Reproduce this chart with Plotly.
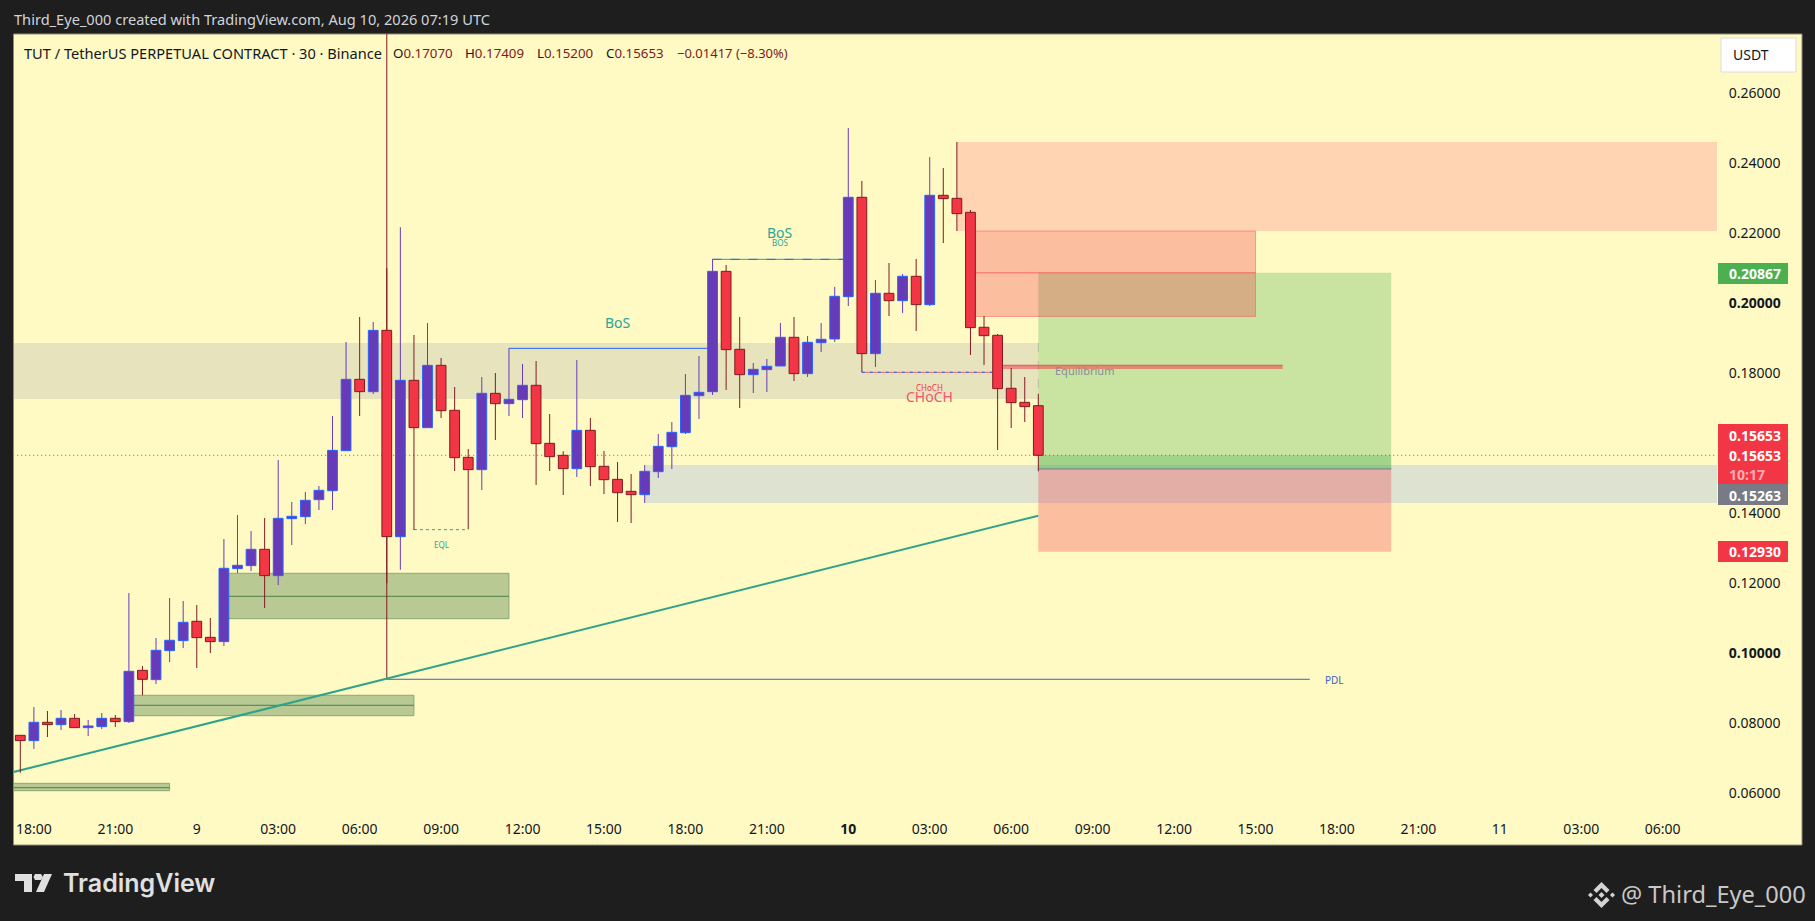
#!/usr/bin/env python3
"""TUT / TetherUS 30m chart with smart-money drawings, TradingView look."""

import pandas as pd
import plotly.graph_objects as go

# candles, 30 minute bars from Aug 8 17:30
opens = [.07652, .07500, .08024, .07957, .08138, .07871, .07900, .08138, .08043, .09509,
         .09243, .10071, .10357, .10910, .10452, .10329, .12414, .12500, .12967, .12214,
         .13843, .13900, .14386, .14642, .15785, .17823, .17471, .19223, .13328, .17795,
         .16442, .18223, .16938, .15595, .15242, .17423, .17128, .17242, .17652, .15995,
         .15652, .15271, .16366, .15338, .14966, .14623, .14528, .15185, .15899, .16299,
         .17356, .17471, .20909, .18681, .17957, .18100, .18205, .19024, .17986, .18871,
         .18976, .20186, .23024, .18557, .20281, .20071, .20767, .19957, .23081, .22995,
         .22595, .19310, .19081, .17567, .17167, .17070]
highs = [.07652, .08462, .08348, .08376, .08262, .08090, .08290, .08233, .11719, .09633,
         .10433, .11576, .11490, .11376, .11005, .13262, .13948, .13491, .13862, .15519,
         .14319, .14605, .14776, .16776, .18890, .19604, .19461, .21000, .22166, .19090,
         .19433, .18433, .17604, .15833, .17890, .18004, .18709, .18261, .18347, .16833,
         .15766, .18376, .16718, .15775, .15461, .15118, .15376, .16261, .16604, .17976,
         .18490, .21252, .21090, .19605, .18290, .18405, .19433, .19605, .19062, .19433,
         .20462, .25005, .23490, .20662, .21147, .20833, .21262, .24176, .23862, .24605,
         .22662, .19633, .19119, .18148, .17890, .17409]
lows = [.06586, .07262, .07605, .07805, .07871, .07633, .07833, .07890, .08005, .08795,
        .09119, .09748, .10148, .09576, .10005, .10205, .12291, .12348, .11290, .11948,
        .13091, .13691, .14091, .14090, .15785, .16776, .17404, .12000, .12385, .13518,
        .16442, .16718, .15204, .13537, .14661, .16090, .16776, .16718, .14804, .15204,
        .14518, .15033, .14775, .14547, .13747, .13718, .14290, .15004, .15261, .16261,
        .16690, .17376, .17519, .17005, .17433, .17462, .18205, .17776, .17890, .18605,
        .18890, .19919, .18024, .18176, .19633, .19719, .19205, .19919, .21719, .22062,
        .18519, .18233, .15805, .16433, .16605, .15200]
closes = [.07500, .08024, .07957, .08138, .07871, .07919, .08138, .08043, .09481, .09252,
          .10081, .10367, .10881, .10443, .10329, .12424, .12510, .12967, .12214, .13852,
          .13910, .14367, .14652, .15794, .17823, .17471, .19223, .13328, .17795, .16442,
          .18223, .16928, .15585, .15242, .17423, .17128, .17252, .17652, .15985, .15614,
          .15271, .16366, .15328, .14956, .14585, .14528, .15195, .15909, .16309, .17366,
          .17452, .20909, .18671, .17957, .18109, .18195, .19024, .17986, .18881, .18967,
          .20195, .23024, .18557, .20281, .20071, .20767, .19957, .23081, .22986, .22557,
          .19300, .19071, .17557, .17157, .17043, .15653]

# axis labels
y_ticks = [.06, .08, .10, .12, .14, .18, .20, .22, .24, .26]
y_labels = ["0.06000", "0.08000", "<b>0.10000</b>", "0.12000", "0.14000", "0.18000",
            "<b>0.20000</b>", "0.22000", "0.24000", "0.26000"]
x_labels = ["18:00", "21:00", "9", "03:00", "06:00", "09:00", "12:00", "15:00", "18:00", "21:00",
            "<b>10</b>", "03:00", "06:00", "09:00", "12:00", "15:00", "18:00", "21:00", "11",
            "03:00", "06:00"]

# trade box and levels
last_close = 0.15653
target = 0.20867
entry = 0.15263
stop = 0.12900
pdl = 0.09253

# colors
BG = "#1e1e1e"
CREAM = "#fff9c4"
UP_FILL, UP_EDGE = "#673ab7", "#2962ff"
DOWN_FILL, DOWN_EDGE = "#f23645", "#801922"
TEAL = "#26a69a"
GREEN_ZONE, GREEN_EDGE, GREEN_MID = "#b9c994", "#8ba876", "#4f7f4a"

# pane position in page pixels
W, H = 1815, 921
LEFT, RIGHT, TOP, BOTTOM = 14, 1717, 34, 812
BAR_PX = 13.573

start = pd.Timestamp("2026-08-08 17:30")


def bar_time(i):
    return (start + pd.Timedelta(minutes=30 * i)).isoformat()


def px(x):
    return (x - LEFT) / (RIGHT - LEFT)


def py(y):
    return 1 - (y - TOP) / (BOTTOM - TOP)


times = [bar_time(i) for i in range(len(opens))]
up = [i for i in range(len(opens)) if closes[i] >= opens[i]]
down = [i for i in range(len(opens)) if closes[i] < opens[i]]
bar_ms = 30 * 60 * 1000

fig = go.Figure()


def add_wicks(idx, color):
    # alpha just under 1 makes plotly round the bar to whole pixels, so wicks stay 1px
    fig.add_trace(go.Bar(
        x=[times[i] for i in idx],
        y=[highs[i] - lows[i] for i in idx],
        base=[lows[i] for i in idx],
        width=bar_ms / BAR_PX,
        marker=dict(color=color, line=dict(width=0)),
        hoverinfo="skip",
    ))


def add_bodies(idx, color, edge):
    fig.add_trace(go.Bar(
        x=[times[i] for i in idx],
        y=[abs(closes[i] - opens[i]) for i in idx],
        base=[min(opens[i], closes[i]) for i in idx],
        width=bar_ms * 0.72,
        marker=dict(color=color, line=dict(color=edge, width=1)),
        hoverinfo="skip",
    ))


add_wicks(up, "rgba(103,58,183,0.99)")
add_wicks(down, "rgba(128,25,34,0.99)")
add_bodies(up, UP_FILL, UP_EDGE)
add_bodies(down, DOWN_FILL, DOWN_EDGE)


def zone(i0, i1, p0, p1, fill, edge=None):
    fig.add_shape(type="rect", layer="below", x0=bar_time(i0), x1=bar_time(i1), y0=p0, y1=p1,
                  fillcolor=fill, line=dict(color=edge or fill, width=1 if edge else 0))


def level(i0, i1, p0, p1, color, width=1, dash="solid"):
    fig.add_shape(type="line", layer="below", x0=bar_time(i0), x1=bar_time(i1), y0=p0, y1=p1,
                  line=dict(color=color, width=width, dash=dash))


def paper_path(points, color):
    d = "M " + " L ".join(f"{px(x):.5f} {py(y):.5f}" for x, y in points) + " Z"
    fig.add_shape(type="path", layer="above", xref="paper", yref="paper", path=d,
                  fillcolor=color, line=dict(width=0))


def label(x, y, text, color, size=14, anchor="left", font="Noto Sans", weight=None):
    fig.add_annotation(xref="paper", yref="paper", x=px(x - 2), y=py(y), text=text, showarrow=False,
                       xanchor=anchor, yanchor="middle",
                       font=dict(family=font, size=size, color=color, weight=weight))


def paper_rect(x0, x1, y0, y1, fill, edge=None, layer="above"):
    fig.add_shape(type="rect", layer=layer, xref="paper", yref="paper",
                  x0=px(x0), x1=px(x1), y0=py(y0), y1=py(y1),
                  fillcolor=fill, line=dict(color=edge or fill, width=1 if edge else 0))


# cream panel behind pane and both axes
paper_rect(13.5, 1802, 34, 845, CREAM, "#8c8c7c", layer="below")

# zones
zone(-2, 75, .18861, .17261, "#e6e3bd")
zone(46, 126, .15376, .14290, "#dde3d0")
zone(69, 126, .24604, .22061, "#ffd4b2")

# order blocks
zone(-2, 11, .06281, .06070, GREEN_ZONE, GREEN_EDGE)
level(-2, 11, .06156, .06156, GREEN_MID)
zone(8, 29, .08796, .08213, GREEN_ZONE, GREEN_EDGE)
level(8, 29, .08510, .08510, GREEN_MID)
zone(15, 36, .12281, .10984, GREEN_ZONE, GREEN_EDGE)
level(15, 36, .11624, .11624, GREEN_MID)

# long position box
zone(75, 101, target, entry, "rgba(76,175,80,0.3)")
zone(75, 101, last_close, entry, "rgba(76,175,80,0.3)")
zone(75, 101, entry, stop, "rgba(242,54,69,0.3)")
level(75, 101, entry, entry, "#787b86")
level(75, 75, .18861, last_close, "rgba(120,123,134,0.35)", dash="dash")

# supply block on top of the box
zone(70, 91, .22061, .19620, "rgba(242,54,69,0.3)", "rgba(242,54,69,0.4)")
level(70, 91, target, target, "rgba(242,54,69,0.6)")

# equilibrium band
zone(72, 93, .18233, .18118, "rgba(242,54,69,0.5)")
level(72, 93, .18225, .18225, "#e85a5a")

# structure lines
level(36, 51, .18709, .18709, UP_EDGE)
level(51, 61, .21252, .21252, TEAL)
level(51, 61, .21252, .21252, UP_EDGE, dash="dash")
level(62, 71.6, .18024, .18024, "#f2605f")
level(62, 71.6, .18024, .18024, UP_EDGE, dash="3px,5px")
level(29, 33, .13528, .13528, TEAL, dash="dot")
level(27, 95, pdl, pdl, "#3a62c0")
level(27, 27, pdl, .28, DOWN_EDGE)
level(-0.5, 75, .06604, .13927, "#2aa58a", width=2)
level(-2, 126, last_close, last_close, "#c2454d", dash="1px,3px")

# price scale tags
paper_rect(1718, 1788, 424, 445, DOWN_FILL)
paper_rect(1718, 1788, 445, 484, DOWN_FILL)
paper_rect(1718, 1788, 484, 505, "#787b86")
paper_rect(1718, 1788, 541, 562, DOWN_FILL)
paper_rect(1718, 1788, 263, 284, "#4caf50")
paper_rect(1721, 1796, 38, 72, "#ffffff", "#dcdcdc")
for y, txt in [(435, "0.15653"), (455.3, "0.15653"), (495, "0.15263"), (551.7, "0.12930"), (273.5, "0.20867")]:
    label(1729, y, f"<b>{txt}</b>", "#ffffff")
label(1729, 474, "<b>10:17</b>", "rgba(255,255,255,0.6)")
label(1733, 55, "USDT", "#131722")

# drawing labels
fig.add_annotation(x=bar_time(44), y=.19441, text="BoS", showarrow=False,
                   font=dict(family="Noto Sans", size=14, color=TEAL))
fig.add_annotation(x=bar_time(56), y=.22013, text="BoS", showarrow=False,
                   font=dict(family="Noto Sans", size=14, color=TEAL))
fig.add_annotation(x=bar_time(56), y=.21719, text="BOS", showarrow=False,
                   font=dict(family="Noto Sans", size=8, color=TEAL))
fig.add_annotation(x=bar_time(31), y=.13110, text="EQL", showarrow=False,
                   font=dict(family="Noto Sans", size=8, color=TEAL))
fig.add_annotation(x=bar_time(67), y=.17330, text="CHoCH", showarrow=False,
                   font=dict(family="Noto Sans", size=14, color="#f0566a"))
fig.add_annotation(x=bar_time(67), y=.17600, text="CHoCH", showarrow=False,
                   font=dict(family="Noto Sans", size=8, color="#f23645"))
fig.add_annotation(x=bar_time(78.4), y=.18062, text="Equilibrium", showarrow=False,
                   font=dict(family="Noto Sans", size=11, color="#868e98"))
fig.add_annotation(x=bar_time(96.8), y=.09230, text="PDL", showarrow=False,
                   font=dict(family="Noto Sans", size=10, color="#3a62c0"))

# headers
label(14, 19, "Third_Eye_000 created with TradingView.com, Aug 10, 2026 07:19 UTC", "#d1d4dc", 14.6)
label(24, 53, "TUT / TetherUS PERPETUAL CONTRACT · 30 · Binance", "#131722", 14.6)
for x, head, val in [(392, "O", "0.17070"), (464.5, "H", "0.17409"), (535.5, "L", "0.15200"), (605, "C", "0.15653")]:
    label(x + 1, 53, f'{head}<span style="color:{DOWN_EDGE}">{val}</span>', "#131722", 13.3)
label(677, 53, "−0.01417 (−8.30%)", DOWN_EDGE, 13)

# footer
label(63, 883, "TradingView", "#e0e0e0", 25, font="Inter", weight=600)
label(1621, 894, "@ Third_Eye_000", "#c8c8c8", 23.6)
paper_path([(15, 874), (32, 874), (32, 892), (24, 892), (24, 881), (15, 881)], "#e0e0e0")
paper_path([(35, 874), (41, 874), (43, 877), (41, 880), (35, 880), (33.5, 877)], "#e0e0e0")
paper_path([(52, 874), (44, 892), (36, 892), (44, 874)], "#e0e0e0")
cx, cy = 1601.5, 895
for dx, dy, r in [(0, 0, 3), (-11, 0, 2.5), (11, 0, 2.5)]:
    paper_path([(cx + dx - r, cy + dy), (cx + dx, cy + dy - r), (cx + dx + r, cy + dy), (cx + dx, cy + dy + r)], "#d4d4d4")
for s in (1, -1):
    paper_path([(cx, cy - 13 * s), (cx + 8, cy - 5 * s), (cx + 5, cy - 2 * s), (cx, cy - 7 * s),
                (cx - 5, cy - 2 * s), (cx - 8, cy - 5 * s)], "#d4d4d4")

fig.update_layout(
    width=W,
    height=H,
    margin=dict(l=LEFT, r=W - RIGHT, t=TOP, b=H - BOTTOM, pad=0),
    paper_bgcolor=BG,
    plot_bgcolor=CREAM,
    barmode="overlay",
    showlegend=False,
    hovermode=False,
    font=dict(family="Noto Sans", size=14, color="#131722"),
    xaxis=dict(
        type="date",
        range=[bar_time(-0.464), bar_time(125.0)],
        tickvals=[bar_time(1 + 6 * k) for k in range(len(x_labels))],
        ticktext=x_labels,
        tickangle=0,
        showgrid=False,
        zeroline=False,
        showline=False,
        ticks="outside",
        ticklen=4,
        tickcolor="rgba(0,0,0,0)",
        rangeslider=dict(visible=False),
    ),
    yaxis=dict(
        side="right",
        range=[.05461, .27690],
        tickvals=y_ticks,
        ticktext=y_labels,
        showgrid=False,
        zeroline=False,
        showline=False,
        ticks="outside",
        ticklen=8,
        tickcolor="rgba(0,0,0,0)",
    ),
)

fig.write_html("out.html", config={"displayModeBar": False},
               post_script="document.body.style.margin='0';document.body.style.overflow='hidden';")
